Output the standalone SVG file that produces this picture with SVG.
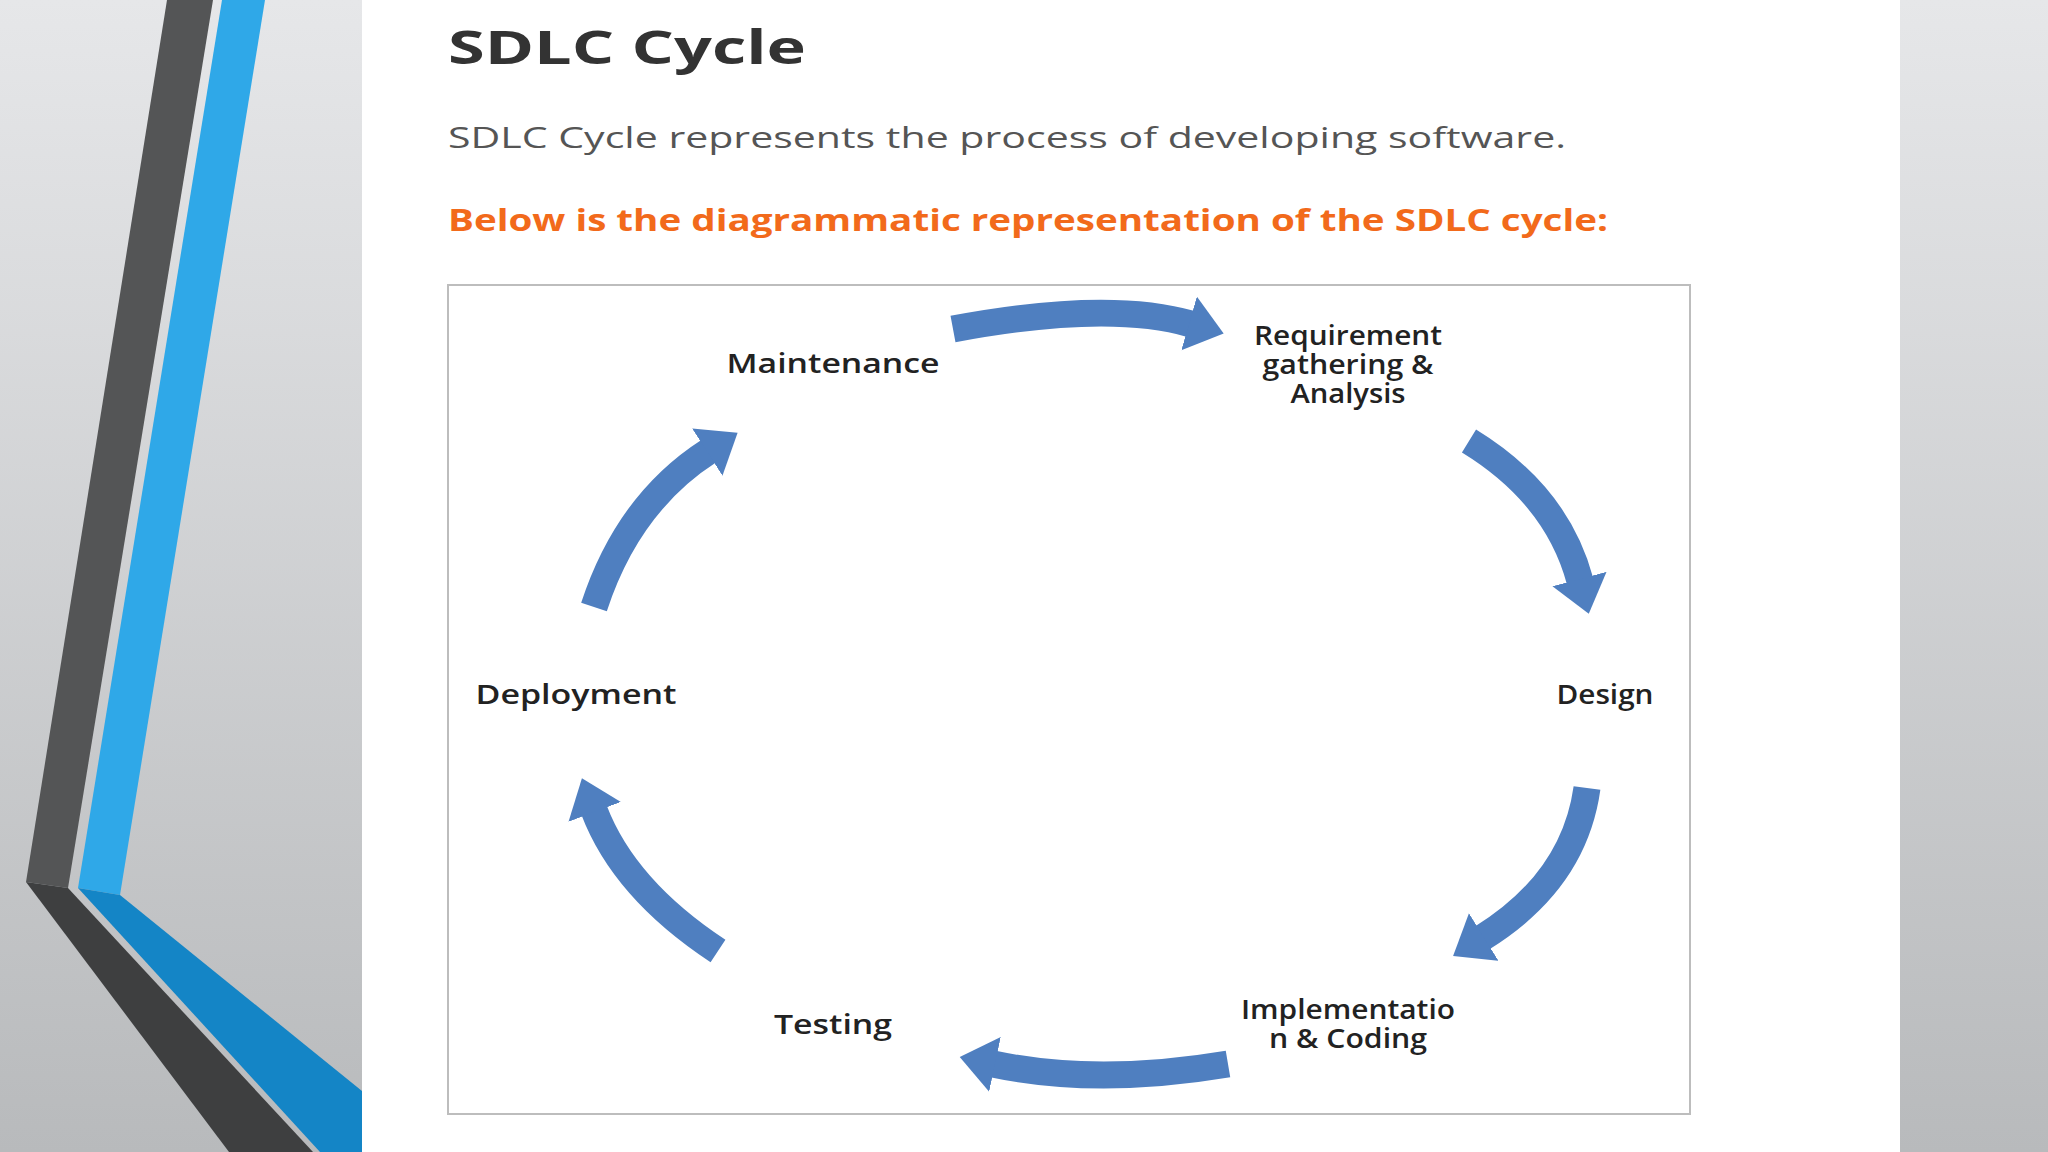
<svg xmlns="http://www.w3.org/2000/svg" width="2048" height="1152" viewBox="0 0 2048 1152">
<defs>
<linearGradient id="bg" x1="0" y1="0" x2="0" y2="1"><stop offset="0" stop-color="#e6e7e9"/><stop offset="1" stop-color="#b8babc"/></linearGradient>
<marker id="ah" markerUnits="userSpaceOnUse" markerWidth="40" markerHeight="60" refX="2" refY="28" orient="auto" viewBox="0 0 40 60"><path d="M0,0 L36,28 L0,56 z" fill="#4f7fc0"/></marker>
</defs>
<style>
.arr{fill:none;stroke:#4f7fc0;stroke-width:27;marker-end:url(#ah)}
.lbl{font-family:"Open Sans","Liberation Sans",sans-serif;font-size:27px;font-weight:600;fill:#222;text-anchor:middle}
</style>
<rect width="2048" height="1152" fill="url(#bg)"/>
<g id="decor">
<polygon points="167,0 213,0 68,888 26,882" fill="#545556"/>
<polygon points="26,882 68,888 313,1152 229,1152" fill="#3e3f40"/>
<polygon points="222,0 265,0 120,895 78,888" fill="#2fa8e8"/>
<polygon points="78,888 120,895 362,1091 362,1152 320,1152" fill="#1485c6"/>
</g>
<rect x="362" y="0" width="1538" height="1152" fill="#ffffff"/>
<g id="header">
<text x="448" y="64" font-family="'Open Sans','Liberation Sans',sans-serif" font-size="47" font-weight="bold" fill="#333" textLength="358" lengthAdjust="spacingAndGlyphs">SDLC Cycle</text>
<text x="448" y="148" font-family="'Open Sans','Liberation Sans',sans-serif" font-size="30" fill="#555" textLength="1118" lengthAdjust="spacingAndGlyphs">SDLC Cycle represents the process of developing software.</text>
<text x="448" y="231" font-family="'Open Sans','Liberation Sans',sans-serif" font-size="31" font-weight="bold" fill="#f26a1b" textLength="1160" lengthAdjust="spacingAndGlyphs">Below is the diagrammatic representation of the SDLC cycle:</text>
</g>
<rect id="frame" x="448" y="285" width="1242" height="829" fill="#fff" stroke="#bdbdbd" stroke-width="2"/>
<g id="connectors">
<path class="arr" d="M953,329 Q1108,300 1191,324"/>
<path class="arr" d="M1469,441 Q1557,495 1580,581"/>
<path class="arr" d="M1587,788 Q1574,881 1482,938"/>
<path class="arr" d="M1228,1064 Q1097,1086 993,1064"/>
<path class="arr" d="M718,951 Q624,889 594,810"/>
<path class="arr" d="M594,607 Q628,503 709,451"/>
</g>
<g id="n-maint"><text class="lbl" x="833" y="373" textLength="213" lengthAdjust="spacingAndGlyphs">Maintenance</text></g>
<g id="n-req"><text class="lbl" x="1348" y="345" textLength="188" lengthAdjust="spacingAndGlyphs">Requirement</text><text class="lbl" x="1348" y="374" textLength="171" lengthAdjust="spacingAndGlyphs">gathering &amp;</text><text class="lbl" x="1348" y="403" textLength="115" lengthAdjust="spacingAndGlyphs">Analysis</text></g>
<g id="n-design"><text class="lbl" x="1605" y="704" textLength="97" lengthAdjust="spacingAndGlyphs">Design</text></g>
<g id="n-impl"><text class="lbl" x="1348" y="1019" textLength="214" lengthAdjust="spacingAndGlyphs">Implementatio</text><text class="lbl" x="1348" y="1048" textLength="158" lengthAdjust="spacingAndGlyphs">n &amp; Coding</text></g>
<g id="n-test"><text class="lbl" x="833" y="1034" textLength="118" lengthAdjust="spacingAndGlyphs">Testing</text></g>
<g id="n-deploy"><text class="lbl" x="576" y="704" textLength="201" lengthAdjust="spacingAndGlyphs">Deployment</text></g>
</svg>
